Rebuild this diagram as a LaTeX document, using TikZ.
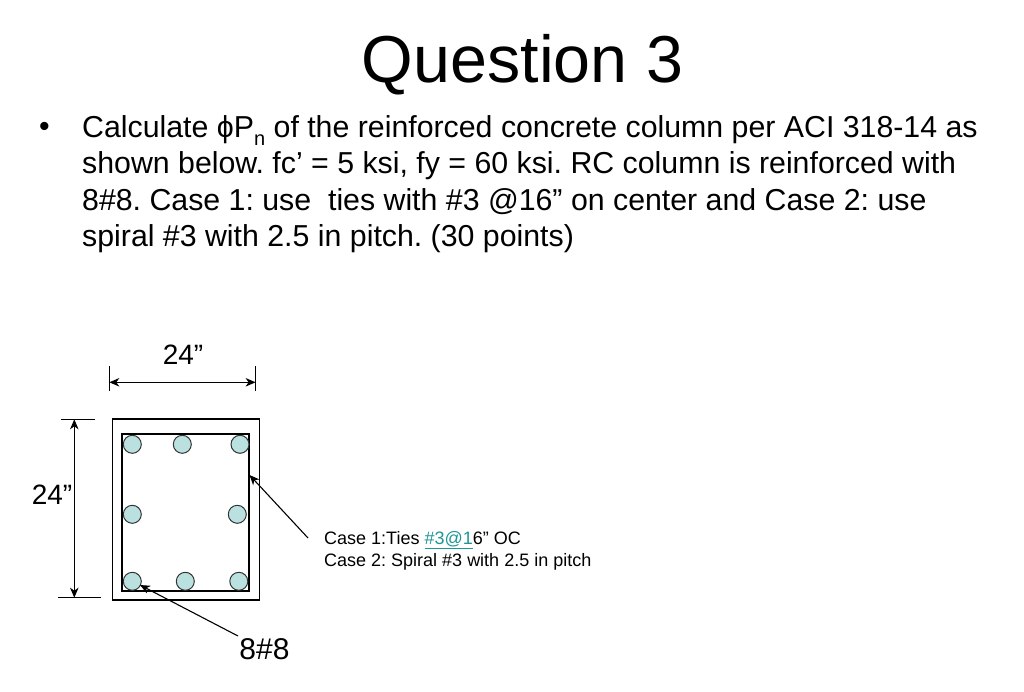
\documentclass[tikz,border=0pt]{standalone}
\usepackage{fontspec}
\setmainfont{Liberation Sans}
\usetikzlibrary{positioning,arrows.meta}
\definecolor{barfill}{RGB}{186,224,224}
\definecolor{linkteal}{RGB}{30,150,150}
\frenchspacing

\begin{document}
\begin{tikzpicture}[x=1pt,y=-1pt,on grid,>={Stealth[length=10pt,width=8.5pt,inset=3pt]},
		bar/.style={circle, draw=black!80, fill=barfill, line width=1pt, minimum size=18pt, inner sep=0pt},
		txt/.style={inner sep=0pt, anchor=base west, align=left},
		dim/.style={<->, line width=1.2pt},
		tick/.style={line width=0.8pt}
	]
	\useasboundingbox (0,0) rectangle (1024,692);

	\node[txt, anchor=base, font=\fontsize{66.4}{66.4}\selectfont] (title) at (522.5,82.5) {Question 3};
	\node[txt, font=\fontsize{30.3}{36}\selectfont] (bullet) at (39,137) {•};
	\node[txt, anchor=north west, font=\fontsize{30.3}{36.6}\selectfont] (question) at (82,115) {Calculate ϕP{\raisebox{-8pt}{\fontsize{20}{20}\selectfont n}} of the reinforced concrete column per ACI 318-14 as\\
		shown below. fc’ = 5 ksi, fy = 60 ksi. RC column is reinforced with\\
		8\#8. Case 1: use\ \ ties with \#3 @16” on center and Case 2: use\\
		spiral \#3 with 2.5 in pitch. (30 points)};

	% column section
	\node[draw, line width=1.6pt, minimum width=147pt, minimum height=181pt, inner sep=0pt] (col) at (185.8,509.6) {};
	\node[draw, line width=1.8pt, minimum width=127.6pt, minimum height=156.4pt, inner sep=0pt] (tie) at (185.5,512.5) {};

	\node[bar] (b_1) at (132.3,444.3) {};
	\node[bar] (b_2) [right=50pt of b_1] {};
	\node[bar] (b_3) [right=107.7pt of b_1] {};
	\node[bar] (b_4) [below=70pt of b_1] {};
	\node[bar] (b_5) [right=105pt of b_4] {};
	\node[bar] (b_6) [below=137pt of b_1] {};
	\node[bar] (b_7) [right=53pt of b_6] {};
	\node[bar] (b_8) [right=106.5pt of b_6] {};

	% dimensions
	\coordinate (t_1) at (109.3,382.3);
	\coordinate (t_2) at (255.6,382.3);
	\coordinate (l_1) at (74.3,419.3);
	\coordinate (l_2) at (74.3,597.7);
	\draw[tick] (109.3,366) -- (109.3,391);
	\draw[tick] (255.6,366) -- (255.6,391);
	\draw[tick] (61,419.3) -- (95,419.3);
	\draw[tick] (58,597.7) -- (100.7,597.7);
	\draw[dim] (t_1) -- (t_2);
	\draw[dim] (l_1) -- (l_2);

	\node[txt, anchor=base, font=\fontsize{28}{28}\selectfont] (w_lbl) at (183,364) {24”};
	\node[txt, anchor=base, font=\fontsize{28}{28}\selectfont] (h_lbl) at (52,504) {24”};

	% labels and leaders
	\node[txt, font=\fontsize{18}{22}\selectfont, anchor=north west] (case_lbl) at (324,531.5) {Case 1:Ties \textcolor{linkteal}{\underline{\#3@1}}6” OC\\Case 2: Spiral \#3 with 2.5 in pitch};
	\node[txt, anchor=base, font=\fontsize{30}{30}\selectfont] (bar_lbl) at (264.5,659) {8\#8};
	\coordinate (c_0) at (308,538);
	\coordinate (c_1) at (249.5,475);
	\coordinate (c_2) at (238,636);
	\coordinate (c_3) at (140,585);
	\draw[->, line width=1.1pt] (c_0) -- (c_1);
	\draw[->, line width=1.1pt] (c_2) -- (c_3);
\end{tikzpicture}
\end{document}
